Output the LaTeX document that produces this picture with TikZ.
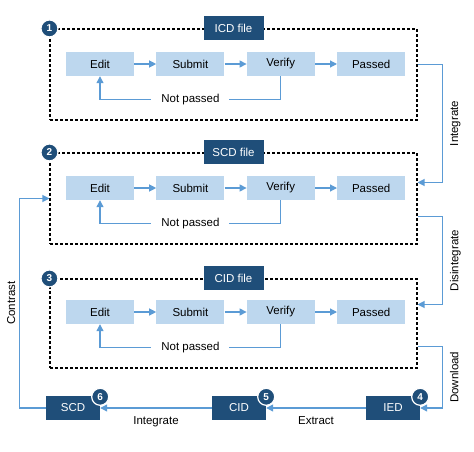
\documentclass[tikz,border=0pt]{standalone}
\usepackage{fontspec}
\setmainfont{Liberation Sans}
\usetikzlibrary{positioning,arrows.meta}
\definecolor{navy}{HTML}{1F4E79}
\definecolor{paleblue}{HTML}{BDD7EE}
\definecolor{flowblue}{HTML}{5B9BD5}

\begin{document}
\begin{tikzpicture}[x=1pt, y=-1pt, node distance=22pt,
  font=\fontsize{11.5}{13}\selectfont]
\tikzstyle{stagebox}=[fill=paleblue, minimum width=68pt, minimum height=24pt, inner sep=0pt]
\tikzstyle{filebox}=[draw, line width=1.1pt, dash pattern=on 3pt off 2pt,
  minimum width=367pt, inner sep=0pt]
\tikzstyle{titlebox}=[fill=navy, text=white, minimum width=60pt, minimum height=24pt, inner sep=0pt]
\tikzstyle{badge}=[circle, fill=navy, draw=white, line width=1.2pt, text=white,
  font=\fontsize{10}{10}\selectfont\bfseries, minimum size=17pt, inner sep=0pt]
\tikzstyle{flow}=[draw=flowblue, line width=1.2pt, -{Triangle[length=7pt,width=7pt]}]
\tikzstyle{gap}=[fill=white, inner xsep=10pt]
\useasboundingbox (0,0) rectangle (474,452);

% ICD file
\node[filebox, minimum height=91pt] (f1) at (233.5,74.5) {};
\node[titlebox] (t1) at (f1.north) {ICD file};
\node[stagebox] (e1) at (100,64) {Edit};
\node[stagebox, right=of e1] (s1) {Submit};
\node[stagebox, right=of s1] (v1) {Verify};
\node[stagebox, right=of v1] (p1) {Passed};
\draw[flow] (e1) -- (s1);
\draw[flow] (s1) -- (v1);
\draw[flow] (v1) -- (p1);
\draw[flow] (v1.south) -- ++(0,23) -| node[pos=0.25, gap]{Not passed} (e1.south);

% SCD file
\node[filebox, minimum height=91pt] (f2) at (233.5,198.5) {};
\node[titlebox] (t2) at (f2.north) {SCD file};
\node[stagebox] (e2) at (100,188) {Edit};
\node[stagebox, right=of e2] (s2) {Submit};
\node[stagebox, right=of s2] (v2) {Verify};
\node[stagebox, right=of v2] (p2) {Passed};
\draw[flow] (e2) -- (s2);
\draw[flow] (s2) -- (v2);
\draw[flow] (v2) -- (p2);
\draw[flow] (v2.south) -- ++(0,23) -| node[pos=0.25, gap]{Not passed} (e2.south);

% CID file
\node[filebox, minimum height=89pt] (f3) at (233.5,323.5) {};
\node[titlebox] (t3) at (f3.north) {CID file};
\node[stagebox] (e3) at (100,312) {Edit};
\node[stagebox, right=of e3] (s3) {Submit};
\node[stagebox, right=of s3] (v3) {Verify};
\node[stagebox, right=of v3] (p3) {Passed};
\draw[flow] (e3) -- (s3);
\draw[flow] (s3) -- (v3);
\draw[flow] (v3) -- (p3);
\draw[flow] (v3.south) -- ++(0,23) -| node[pos=0.25, gap]{Not passed} (e3.south);

% bottom row
\node[titlebox, minimum width=54pt] (scd) at (73,408) {SCD};
\node[titlebox, minimum width=54pt] (cid) at (239,408) {CID};
\node[titlebox, minimum width=54pt] (ied) at (393,408) {IED};

% connectors
\draw[flow] ([yshift=10pt]f1.east) -- ++(25,0)
  |- node[pos=0.25, rotate=90, anchor=north, inner sep=7pt]{Integrate} ([yshift=16pt]f2.east);
\draw[flow] ([yshift=-18pt]f2.east) -- ++(25,0)
  |- node[pos=0.25, rotate=90, anchor=north, inner sep=7pt]{Disintegrate} ([yshift=19pt]f3.east);
\draw[flow] ([yshift=-23pt]f3.east) -- ++(25,0)
  |- node[pos=0.25, rotate=90, anchor=north, inner sep=7pt]{Download} (ied.east);
\draw[flow] (ied) -- node[below=5pt]{Extract} (cid);
\draw[flow] (cid) -- node[below=5pt]{Integrate} (scd);
\draw[flow] (scd.west) -- ++(-26,0)
  |- node[pos=0.25, rotate=90, anchor=south, inner sep=4pt]{Contrast} (f2.west);

% numbered badges
\node[badge] (n1) at (f1.north west) {1};
\node[badge] (n2) at (f2.north west) {2};
\node[badge] (n3) at (f3.north west) {3};
\node[badge] (n4) at ([yshift=-1pt]ied.north east) {4};
\node[badge] (n5) at ([yshift=-1pt]cid.north east) {5};
\node[badge] (n6) at ([yshift=-1pt]scd.north east) {6};
\end{tikzpicture}
\end{document}
